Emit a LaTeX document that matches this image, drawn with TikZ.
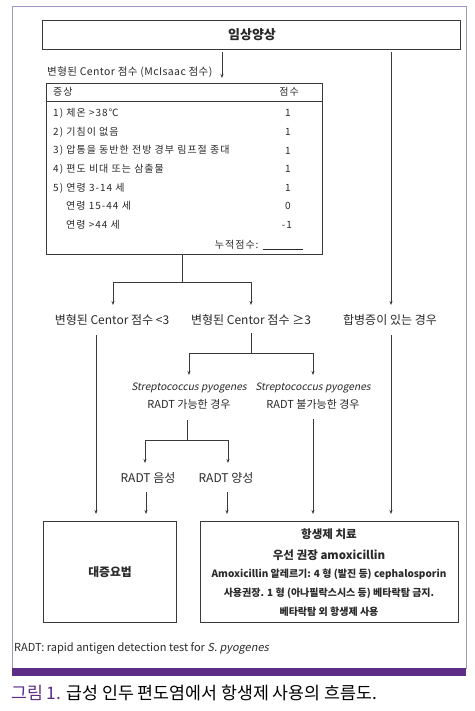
\documentclass[tikz,border=0pt]{standalone}
\usepackage{fontspec}
\setmainfont{Noto Sans CJK KR}[AutoFakeSlant=0.2]
\usetikzlibrary{arrows.meta}
\definecolor{frame}{HTML}{A395BE}
\definecolor{bar}{HTML}{5E2D86}
\definecolor{ln}{HTML}{3A3A3A}
\definecolor{tx}{HTML}{2A2A2A}
\newcommand{\tabfont}{\fontsize{10}{12}\selectfont\addfontfeatures{LetterSpace=10}}
\tikzset{
  conn/.style={draw=ln, line width=0.8pt},
  arr/.style={conn, -{Stealth[length=4pt,width=3pt]}},
  box/.style={draw=ln, line width=0.9pt, inner sep=0pt},
  lbl/.style={text=tx, inner sep=1pt, font=\fontsize{12}{14}\selectfont},
  tbl/.style={text=tx, inner sep=0pt, anchor=west, font=\tabfont},
  num/.style={text=tx, inner sep=0pt, font=\tabfont},
  rb/.style={text=tx, inner sep=0pt, font=\fontsize{10}{12}\bfseries\selectfont},
}
\begin{document}
\begin{tikzpicture}[x=1pt,y=-1pt]
\useasboundingbox (0,0) rectangle (474,711);
\fill[white] (0,0) rectangle (474,711);
% frame
\draw[frame, line width=1pt] (12,7) rectangle (466,668);
\fill[bar] (12,668) rectangle (466,676);
% top box
\node[box, minimum width=418pt, minimum height=29pt] (top) at (251,34.5) {};
\node[text=tx, font=\fontsize{13}{15}\bfseries\selectfont] (toptxt) at (252,35) {임상양상};
\coordinate (a1s) at (222,52);
\coordinate (a1e) at (222,78);
\draw[arr] (a1s) -- (a1e);
\node[tbl, font=\fontsize{10.5}{12}\selectfont\addfontfeatures{LetterSpace=4}] (tcap) at (47,72) {변형된 Centor 점수 (McIsaac 점수)};
% table
\node[box, minimum width=276pt, minimum height=171pt] (tab) at (184,168.5) {};
\draw[draw=ln, line width=0.8pt] (46,101) -- (322,101);
\node[tbl] (h1) at (53,92) {증상};
\node[num] (h2) at (289,92) {점수};
\node[tbl] (r1) at (53,113) {1) 체온 >38℃};
\node[tbl] (r2) at (53,132) {2) 기침이 없음};
\node[tbl] (r3) at (53,150.5) {3) 압통을 동반한 전방 경부 림프절 종대};
\node[tbl] (r4) at (53,169) {4) 편도 비대 또는 삼출물};
\node[tbl] (r5) at (53,188) {5) 연령 3-14 세};
\node[tbl] (r6) at (66,206) {연령 15-44 세};
\node[tbl] (r7) at (66,225) {연령 >44 세};
\node[num] (s1) at (288,113) {1};
\node[num] (s2) at (288,132) {1};
\node[num] (s3) at (288,150.5) {1};
\node[num] (s4) at (288,169) {1};
\node[num] (s5) at (288,188) {1};
\node[num] (s6) at (288,206) {0};
\node[num] (s7) at (287,225) {-1};
\node[num, anchor=east] (sum) at (303,245) {누적점수: \rule[-1pt]{40pt}{0.5pt}};
% split 1
\coordinate (t1) at (182,254);
\coordinate (t2) at (182,282);
\coordinate (t3) at (113,282);
\coordinate (t4) at (251,282);
\node[lbl] (lt3) at (112,320) {변형된 Centor 점수 <3};
\node[lbl] (ge3) at (251,320) {변형된 Centor 점수 ≥3};
\node[lbl] (comp) at (390,320) {합병증이 있는 경우};
\draw[conn] (t1) -- (t2);
\draw[conn] (t3) -- (t4);
\draw[arr] (t3) -- (113,305);
\draw[arr] (t4) -- (251,305);
\coordinate (rv) at (391,52);
\draw[arr] (rv) -- (391,305);
% split 2
\coordinate (g1) at (251,333);
\coordinate (g2) at (251,353);
\coordinate (g3) at (189,353);
\coordinate (g4) at (313,353);
\draw[conn] (g1) -- (g2);
\draw[conn] (g3) -- (g4);
\draw[arr] (g3) -- (189,375);
\draw[arr] (g4) -- (313,375);
\node[lbl, align=center, font=\fontsize{11}{18}\selectfont] (sp1) at (189,396) {{\fontsize{10.2}{12}\selectfont\itshape Streptococcus pyogenes}\\RADT 가능한 경우};
\node[lbl, align=center, font=\fontsize{11}{18}\selectfont] (sp2) at (313,396) {{\fontsize{10.2}{12}\selectfont\itshape Streptococcus pyogenes}\\RADT 불가능한 경우};
% split 3
\coordinate (p1) at (187,420);
\coordinate (p2) at (187,440);
\coordinate (p3) at (145,440);
\coordinate (p4) at (228,440);
\draw[conn] (p1) -- (p2);
\draw[conn] (p3) -- (p4);
\draw[arr] (p3) -- (145,463);
\draw[arr] (p4) -- (228,463);
\node[lbl] (neg) at (148,478) {RADT 음성};
\node[lbl] (pos) at (226,478) {RADT 양성};
% bottom boxes
\node[box, minimum width=133pt, minimum height=101pt] (sym) at (109.5,571.5) {};
\node[text=tx, font=\fontsize{11.8}{14}\bfseries\selectfont] (symt) at (110,572) {대증요법};
\node[box, minimum width=258pt, minimum height=101pt] (abx) at (329,571.5) {};
\node[rb, font=\fontsize{11.5}{13}\bfseries\selectfont] (ab1) at (329,534) {항생제 치료};
\node[rb, font=\fontsize{11.5}{13}\bfseries\selectfont] (ab2) at (329,555) {우선 권장 amoxicillin};
\node[rb] (ab3) at (329,574) {Amoxicillin 알레르기: 4 형 (발진 등) cephalosporin};
\node[rb] (ab4) at (329,593) {사용권장. 1 형 (아나필락스시스 등) 베타락탐 금지.};
\node[rb] (ab5) at (329,612) {베타락탐 외 항생제 사용};
% arrows into boxes
\coordinate (b1) at (96,335);
\coordinate (b2) at (146,492);
\coordinate (b3) at (227,492);
\coordinate (b4) at (313,419);
\coordinate (b5) at (391,335);
\draw[arr] (b1) -- (96,514);
\draw[arr] (b2) -- (146,514);
\draw[arr] (b3) -- (227,514);
\draw[arr] (b4) -- (313,514);
\draw[arr] (b5) -- (391,514);
% footnote
\node[tbl, font=\fontsize{11}{13}\selectfont] (foot) at (14,648) {RADT: rapid antigen detection test for \textit{S. pyogenes}};
% caption
\node[anchor=west, inner sep=0pt, font=\fontsize{17.3}{19}\selectfont] (cap) at (11,693) {\textcolor{bar}{그림 1.} 급성 인두 편도염에서 항생제 사용의 흐름도.};
\end{tikzpicture}
\end{document}
